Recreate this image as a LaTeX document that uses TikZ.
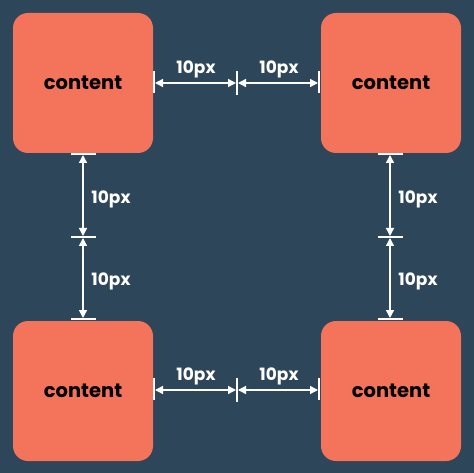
\documentclass[tikz,border=0pt]{standalone}
\usepackage{fontspec}
\setmainfont{Poppins}
\usetikzlibrary{arrows.meta}
\definecolor{bg}{HTML}{2E4659}
\definecolor{boxc}{HTML}{F4735B}
\begin{document}
\begin{tikzpicture}[x=1pt,y=-1pt,
  box/.style={fill=boxc,rounded corners=15pt,minimum width=140pt,minimum height=140pt,inner sep=0pt,font=\bfseries\fontsize{19.5}{22}\selectfont,text=black},
  dim/.style={draw=white,line width=1.4pt,{Triangle[width=8pt,length=8pt]}-{Triangle[width=8pt,length=8pt]},shorten <=1pt,shorten >=1pt},
  tick/.style={draw=white,line width=1.8pt},
  lbl/.style={text=white,font=\bfseries\fontsize{17}{19}\selectfont,inner sep=0pt}]
\useasboundingbox[fill=bg] (0,0) rectangle (474,473);
\node[box] (tl) at (83,83) {content};
\node[box] (tr) at (391,83) {content};
\node[box] (bl) at (83,391) {content};
\node[box] (br) at (391,391) {content};
% top row
\coordinate (h1) at (154,83);
\coordinate (h2) at (237,83);
\coordinate (h3) at (319,83);
\draw[tick] (154,71) -- (154,93);
\draw[tick] (237,71) -- (237,95);
\draw[tick] (319,71) -- (319,93);
\draw[dim] (h1) -- (h2);
\draw[dim] (h2) -- (h3);
\node[lbl] (lt1) at (196,69) {10px};
\node[lbl] (lt2) at (279,69) {10px};
% bottom row
\coordinate (b1) at (154,390);
\coordinate (b2) at (237,390);
\coordinate (b3) at (319,390);
\draw[tick] (154,378) -- (154,400);
\draw[tick] (237,378) -- (237,402);
\draw[tick] (319,378) -- (319,400);
\draw[dim] (b1) -- (b2);
\draw[dim] (b2) -- (b3);
\node[lbl] (lb1) at (196,376) {10px};
\node[lbl] (lb2) at (279,376) {10px};
% left column
\coordinate (v1) at (83,154);
\coordinate (v2) at (83,237);
\coordinate (v3) at (83,319);
\draw[tick] (71,154) -- (96,154);
\draw[tick] (71,237) -- (96,237);
\draw[tick] (71,319) -- (96,319);
\draw[dim] (v1) -- (v2);
\draw[dim] (v2) -- (v3);
\node[lbl] (ll1) at (111,199) {10px};
\node[lbl] (ll2) at (111,281) {10px};
% right column
\coordinate (w1) at (390,154);
\coordinate (w2) at (390,237);
\coordinate (w3) at (390,319);
\draw[tick] (378,154) -- (403,154);
\draw[tick] (378,237) -- (403,237);
\draw[tick] (378,319) -- (403,319);
\draw[dim] (w1) -- (w2);
\draw[dim] (w2) -- (w3);
\node[lbl] (lr1) at (418,199) {10px};
\node[lbl] (lr2) at (418,281) {10px};
\end{tikzpicture}
\end{document}
